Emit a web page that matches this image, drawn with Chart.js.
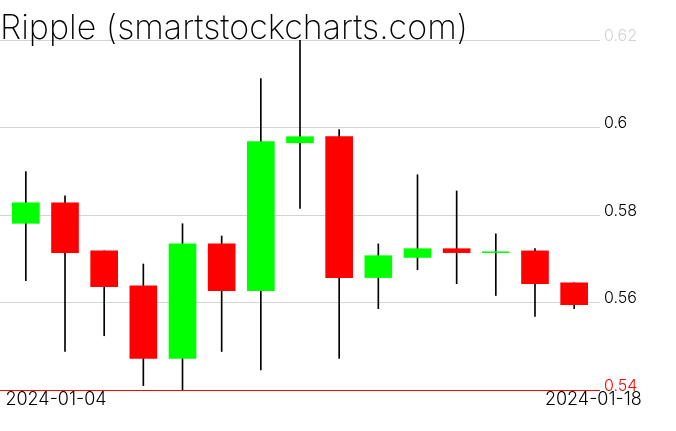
<!DOCTYPE html>
<html lang="en">
<head>
    <meta charset="UTF-8">
    <title>Ripple</title>
    <script src="https://cdn.jsdelivr.net/npm/chart.js"></script>
    <style>
        body { margin: 0; background: white; }
        #wrap { width: 676px; height: 431px; }
    </style>
</head>
<body>
    <div id="wrap"><canvas id="chart" width="676" height="431"></canvas></div>
    <script>
        // daily candles
        let dates  = ['2024-01-04','2024-01-05','2024-01-06','2024-01-07','2024-01-08','2024-01-09','2024-01-10','2024-01-11',
                      '2024-01-12','2024-01-13','2024-01-14','2024-01-15','2024-01-16','2024-01-17','2024-01-18'];
        let opens  = [0.5781, 0.5828, 0.5718, 0.5638, 0.5472, 0.5734, 0.5627, 0.5965, 0.5979, 0.5657, 0.5703, 0.5723, 0.5714, 0.5718, 0.5645];
        let highs  = [0.5899, 0.5844, 0.5718, 0.5688, 0.5780, 0.5752, 0.6112, 0.6199, 0.5995, 0.5734, 0.5892, 0.5855, 0.5757, 0.5723, 0.5645];
        let lows   = [0.5650, 0.5488, 0.5524, 0.5410, 0.5400, 0.5488, 0.5446, 0.5815, 0.5472, 0.5586, 0.5675, 0.5643, 0.5616, 0.5568, 0.5586];
        let closes = [0.5828, 0.5714, 0.5636, 0.5472, 0.5734, 0.5627, 0.5968, 0.5979, 0.5657, 0.5707, 0.5723, 0.5714, 0.5716, 0.5643, 0.5595];
        let yTicks = [0.54, 0.56, 0.58, 0.6, 0.62];

        let bodies = dates.map((d, i) => ({ x: i, y: [opens[i], closes[i]] }));
        let wicks  = dates.map((d, i) => ({ x: i, y: [lows[i], highs[i]] }));
        let bodyColors = dates.map((d, i) => closes[i] >= opens[i] ? '#00ff00' : '#ff0000');

        function near(a, b) { return Math.abs(a - b) < 1e-6; }

        new Chart(document.getElementById('chart'), {
            type: 'bar',
            data: {
                datasets: [
                    { data: bodies, backgroundColor: bodyColors, barThickness: 27, grouped: false },
                    { data: wicks, backgroundColor: '#000000', barThickness: 1, grouped: false }
                ]
            },
            options: {
                responsive: false,
                animation: false,
                layout: { padding: 0 },
                plugins: {
                    legend: { display: false },
                    tooltip: { enabled: false },
                    title: {
                        display: true,
                        text: 'Ripple (smartstockcharts.com)',
                        align: 'start',
                        color: '#000000',
                        font: { family: 'Inter', size: 34, weight: 200 },
                        padding: { top: 8, bottom: -8.8 }
                    }
                },
                scales: {
                    x: {
                        type: 'linear',
                        offset: false,
                        bounds: 'data',
                        min: -0.66,
                        max: 14.66,
                        grid: { display: false, drawTicks: false },
                        border: { display: false },
                        afterBuildTicks: s => { s.ticks = [{ value: 0.77 }, { value: 14.49 }]; },
                        afterFit: s => { s.height = 41; },
                        ticks: {
                            color: '#000000',
                            font: { family: 'Inter', size: 18, weight: 300 },
                            maxRotation: 0,
                            autoSkip: false,
                            padding: -1,
                            callback: (v, idx) => idx === 0 ? dates[0] : dates[dates.length - 1]
                        }
                    },
                    y: {
                        position: 'right',
                        min: 0.54,
                        max: 0.62,
                        z: 1,
                        afterBuildTicks: s => { s.ticks = yTicks.map(v => ({ value: v })); },
                        afterFit: s => { s.width = 76; },
                        border: { display: false },
                        grid: {
                            drawTicks: false,
                            color: ctx => near(ctx.tick.value, 0.54) ? '#ff0000' : '#d3d3d3'
                        },
                        ticks: {
                            padding: 4,
                            crossAlign: 'near',
                            labelOffset: -4,
                            font: { family: 'Inter', size: 16, weight: 300 },
                            color: ctx => near(ctx.tick.value, 0.62) ? '#d3d3d3' : near(ctx.tick.value, 0.54) ? '#ff0000' : '#000000',
                            callback: v => String(+v.toFixed(2))
                        }
                    }
                }
            }
        });
    </script>
</body>
</html>
